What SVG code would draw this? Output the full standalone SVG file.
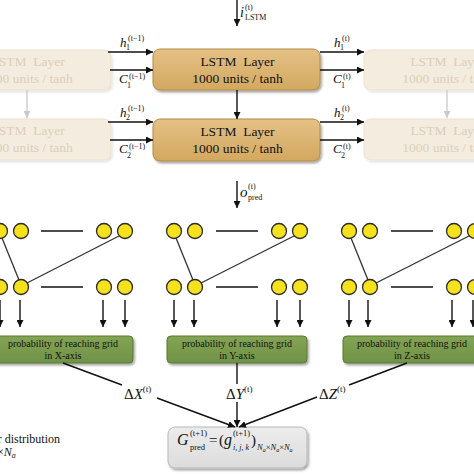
<svg xmlns="http://www.w3.org/2000/svg" width="474" height="474" viewBox="0 0 474 474">
<style>
text{font-family:"Liberation Serif","Times New Roman",serif;fill:#111}
.it{font-style:italic}
.lstm{fill:url(#gold);stroke:#b48a4a;stroke-width:1}
.fade{fill:#f4ecde;stroke:#ece0cc;stroke-width:1}
.ft{fill:#dccfba;font-size:13.5px}
.lt{font-size:13.5px}
.grn{fill:url(#green);stroke:#587a2e;stroke-width:1}
.gt{font-size:10px}
.c{fill:#f6e21c;stroke:#2a2a2a;stroke-width:1.3}
.ln{stroke:#111;stroke-width:1.4;fill:none}
.dg{stroke:#333;stroke-width:1.3;fill:none}
.sm{font-size:8px}
.s9{font-size:8.5px}
</style>
<defs>
<linearGradient id="gold" x1="0" y1="0" x2="0" y2="1"><stop offset="0" stop-color="#e4c185"/><stop offset="1" stop-color="#d3a860"/></linearGradient>
<linearGradient id="green" x1="0" y1="0" x2="0" y2="1"><stop offset="0" stop-color="#84a454"/><stop offset="1" stop-color="#709248"/></linearGradient>
<linearGradient id="gray" x1="0" y1="0" x2="0" y2="1"><stop offset="0" stop-color="#ececec"/><stop offset="1" stop-color="#dcdcdc"/></linearGradient>
<filter id="sh" x="-10%" y="-20%" width="130%" height="160%"><feDropShadow dx="1.5" dy="2" stdDeviation="1.2" flood-color="#000" flood-opacity="0.35"/></filter>
<filter id="shf" x="-10%" y="-20%" width="130%" height="160%"><feDropShadow dx="1.5" dy="2" stdDeviation="1.2" flood-color="#000" flood-opacity="0.1"/></filter>
<marker id="a" viewBox="0 0 10 10" refX="10" refY="5" markerWidth="7" markerHeight="7" markerUnits="userSpaceOnUse" orient="auto"><path d="M0,0 L10,5 L0,10 z" fill="#111"/></marker>
<marker id="af" viewBox="0 0 10 10" refX="10" refY="5" markerWidth="7" markerHeight="7" markerUnits="userSpaceOnUse" orient="auto"><path d="M0,0 L10,5 L0,10 z" fill="#c9c9c9"/></marker>
</defs>

<g id="lstm-left-1"><rect class="fade" filter="url(#shf)" x="-56" y="50" width="167" height="40" rx="7"/><text class="ft" x="27.5" y="66" text-anchor="middle">LSTM&#160; Layer</text><text class="ft" x="27.5" y="83" text-anchor="middle">1000 units / tanh</text></g>
<g id="lstm-left-2"><rect class="fade" filter="url(#shf)" x="-56" y="119" width="167" height="41" rx="7"/><text class="ft" x="27.5" y="135" text-anchor="middle">LSTM&#160; Layer</text><text class="ft" x="27.5" y="152" text-anchor="middle">1000 units / tanh</text></g>
<g id="lstm-1"><rect class="lstm" filter="url(#sh)" x="153" y="49" width="167" height="41" rx="7"/><text class="lt" x="237.5" y="66" text-anchor="middle">LSTM&#160; Layer</text><text class="lt" x="237.5" y="83" text-anchor="middle">1000 units / tanh</text></g>
<g id="lstm-2"><rect class="lstm" filter="url(#sh)" x="153" y="119" width="167" height="42" rx="7"/><text class="lt" x="237.5" y="136" text-anchor="middle">LSTM&#160; Layer</text><text class="lt" x="237.5" y="153" text-anchor="middle">1000 units / tanh</text></g>
<g id="lstm-right-1"><rect class="fade" filter="url(#shf)" x="364" y="50" width="167" height="40" rx="7"/><text class="ft" x="447.5" y="66" text-anchor="middle">LSTM&#160; Layer</text><text class="ft" x="447.5" y="83" text-anchor="middle">1000 units / tanh</text></g>
<g id="lstm-right-2"><rect class="fade" filter="url(#shf)" x="364" y="119" width="167" height="41" rx="7"/><text class="ft" x="447.5" y="135" text-anchor="middle">LSTM&#160; Layer</text><text class="ft" x="447.5" y="152" text-anchor="middle">1000 units / tanh</text></g>

<g id="neurons">
<g id="group-x">
<circle class="c" cx="0" cy="231" r="7.5"/><circle class="c" cx="21" cy="231" r="7.5"/><circle class="c" cx="104" cy="231" r="7.5"/><circle class="c" cx="125" cy="231" r="7.5"/>
<circle class="c" cx="0" cy="287" r="7.5"/><circle class="c" cx="21" cy="287" r="7.5"/><circle class="c" cx="104" cy="287" r="7.5"/><circle class="c" cx="125" cy="287" r="7.5"/>
</g>
<g id="group-y">
<circle class="c" cx="174" cy="231" r="7.5"/><circle class="c" cx="195" cy="231" r="7.5"/><circle class="c" cx="279" cy="231" r="7.5"/><circle class="c" cx="300" cy="231" r="7.5"/>
<circle class="c" cx="174" cy="287" r="7.5"/><circle class="c" cx="195" cy="287" r="7.5"/><circle class="c" cx="279" cy="287" r="7.5"/><circle class="c" cx="300" cy="287" r="7.5"/>
</g>
<g id="group-z">
<circle class="c" cx="349" cy="231" r="7.5"/><circle class="c" cx="370" cy="231" r="7.5"/><circle class="c" cx="454" cy="231" r="7.5"/><circle class="c" cx="475" cy="231" r="7.5"/>
<circle class="c" cx="349" cy="287" r="7.5"/><circle class="c" cx="370" cy="287" r="7.5"/><circle class="c" cx="454" cy="287" r="7.5"/><circle class="c" cx="475" cy="287" r="7.5"/>
</g>
</g>

<g id="prob-x"><rect class="grn" filter="url(#sh)" x="-7" y="336" width="140" height="27" rx="4"/><text class="gt" x="63" y="347" text-anchor="middle">probability of reaching grid</text><text class="gt" x="63" y="359" text-anchor="middle">in X-axis</text></g>
<g id="prob-y"><rect class="grn" filter="url(#sh)" x="167" y="336" width="140" height="27" rx="4"/><text class="gt" x="237" y="347" text-anchor="middle">probability of reaching grid</text><text class="gt" x="237" y="359" text-anchor="middle">in Y-axis</text></g>
<g id="prob-z"><rect class="grn" filter="url(#sh)" x="343" y="336" width="140" height="27" rx="4"/><text class="gt" x="412" y="347" text-anchor="middle">probability of reaching grid</text><text class="gt" x="412" y="359" text-anchor="middle">in Z-axis</text></g>

<g id="grid-output"><rect filter="url(#sh)" x="168" y="427" width="139" height="41" rx="7" fill="url(#gray)" stroke="#b8b8b8"/>
<text class="it" x="177" y="445" font-size="16">G</text><text class="s9" x="190" y="436">(t+1)</text><text class="s9" x="190" y="450">pred</text>
<text x="209" y="445" font-size="15">=</text><text x="219" y="445" font-size="15">(</text><text class="it" x="224" y="445" font-size="16">g</text><text class="s9" x="233" y="436">(t+1)</text><text class="it" x="233" y="450" font-size="8">i, j, k</text>
<text x="251" y="445" font-size="15">)</text><text class="it" x="257" y="450" font-size="8.5">N<tspan font-size="6" dy="1.5">a</tspan><tspan dy="-1.5" font-style="normal">×</tspan>N<tspan font-size="6" dy="1.5">a</tspan><tspan dy="-1.5" font-style="normal">×</tspan>N<tspan font-size="6" dy="1.5">a</tspan></text>
</g>

<g id="legend"><text x="60" y="443" font-size="12" text-anchor="end">r distribution</text><text x="-3" y="456" font-size="12">×<tspan class="it">N</tspan><tspan font-size="8" dy="2" class="it">a</tspan></text></g>

<g id="connectors">
<line class="ln" x1="237" y1="0" x2="237" y2="26" marker-end="url(#a)"/>
<text class="it" x="240" y="17" font-size="14">i</text><text class="sm" x="245" y="10">(t)</text><text class="sm" x="245" y="20" font-size="7">LSTM</text>
<line class="ln" x1="237" y1="90" x2="237" y2="119" marker-end="url(#a)"/>
<line x1="27" y1="90" x2="27" y2="118" stroke="#c9c9c9" stroke-width="1.3" marker-end="url(#af)"/>
<line x1="447" y1="90" x2="447" y2="118" stroke="#c9c9c9" stroke-width="1.3" marker-end="url(#af)"/>
<line class="ln" x1="108" y1="52" x2="153" y2="52" marker-end="url(#a)"/>
<line class="ln" x1="110" y1="70" x2="153" y2="70" marker-end="url(#a)"/>
<line class="ln" x1="108" y1="122" x2="153" y2="122" marker-end="url(#a)"/>
<line class="ln" x1="110" y1="140" x2="153" y2="140" marker-end="url(#a)"/>
<line class="ln" x1="320" y1="52" x2="364" y2="52" marker-end="url(#a)"/>
<line class="ln" x1="320" y1="70" x2="364" y2="70" marker-end="url(#a)"/>
<line class="ln" x1="320" y1="122" x2="364" y2="122" marker-end="url(#a)"/>
<line class="ln" x1="320" y1="140" x2="364" y2="140" marker-end="url(#a)"/>
<text class="it" x="120" y="47" font-size="13">h</text><text class="sm" x="126" y="50">1</text><text class="sm" x="128" y="41">(t−1)</text>
<text class="it" x="119" y="83" font-size="13">C</text><text class="sm" x="127" y="88">1</text><text class="sm" x="129" y="79">(t−1)</text>
<text class="it" x="120" y="117" font-size="13">h</text><text class="sm" x="126" y="120">2</text><text class="sm" x="128" y="111">(t−1)</text>
<text class="it" x="119" y="153" font-size="13">C</text><text class="sm" x="127" y="158">2</text><text class="sm" x="129" y="149">(t−1)</text>
<text class="it" x="334" y="47" font-size="13">h</text><text class="sm" x="340" y="50">1</text><text class="sm" x="342" y="41">(t)</text>
<text class="it" x="333" y="83" font-size="13">C</text><text class="sm" x="341" y="88">1</text><text class="sm" x="343" y="79">(t)</text>
<text class="it" x="334" y="117" font-size="13">h</text><text class="sm" x="340" y="120">2</text><text class="sm" x="342" y="111">(t)</text>
<text class="it" x="333" y="153" font-size="13">C</text><text class="sm" x="341" y="158">2</text><text class="sm" x="343" y="149">(t)</text>
<line class="ln" x1="237" y1="181" x2="237" y2="208" marker-end="url(#a)"/>
<text class="it" x="240" y="197" font-size="15">o</text><text class="sm" x="248" y="189">(t)</text><text class="sm" x="248" y="200" font-size="7">pred</text>

<line class="ln" x1="41" y1="231" x2="83" y2="231"/><line class="ln" x1="41" y1="287" x2="83" y2="287"/>
<line class="ln" x1="216" y1="231" x2="258" y2="231"/><line class="ln" x1="216" y1="287" x2="258" y2="287"/>
<line class="ln" x1="391" y1="231" x2="433" y2="231"/><line class="ln" x1="391" y1="287" x2="433" y2="287"/>
<line class="dg" x1="2" y1="238" x2="19" y2="280"/><line class="dg" x1="119" y1="236" x2="27" y2="283"/>
<line class="dg" x1="176" y1="238" x2="193" y2="280"/><line class="dg" x1="294" y1="236" x2="201" y2="283"/>
<line class="dg" x1="351" y1="238" x2="368" y2="280"/><line class="dg" x1="469" y1="236" x2="376" y2="283"/>

<line class="ln" x1="0" y1="300" x2="0" y2="327" marker-end="url(#a)"/><line class="ln" x1="20" y1="300" x2="20" y2="327" marker-end="url(#a)"/>
<line class="ln" x1="103" y1="300" x2="103" y2="327" marker-end="url(#a)"/><line class="ln" x1="125" y1="300" x2="125" y2="327" marker-end="url(#a)"/>
<line class="ln" x1="174" y1="300" x2="174" y2="327" marker-end="url(#a)"/><line class="ln" x1="194" y1="300" x2="194" y2="327" marker-end="url(#a)"/>
<line class="ln" x1="277" y1="300" x2="277" y2="327" marker-end="url(#a)"/><line class="ln" x1="300" y1="300" x2="300" y2="327" marker-end="url(#a)"/>
<line class="ln" x1="349" y1="300" x2="349" y2="327" marker-end="url(#a)"/><line class="ln" x1="368" y1="300" x2="368" y2="327" marker-end="url(#a)"/>
<line class="ln" x1="452" y1="300" x2="452" y2="327" marker-end="url(#a)"/><line class="ln" x1="473" y1="300" x2="473" y2="327" marker-end="url(#a)"/>

<line class="ln" x1="63" y1="363" x2="122" y2="385"/><line class="ln" x1="157" y1="398" x2="235" y2="427" marker-end="url(#a)"/>
<line class="ln" x1="237" y1="363" x2="237" y2="384"/><line class="ln" x1="237" y1="402" x2="237" y2="427" marker-end="url(#a)"/>
<line class="ln" x1="407" y1="363" x2="349" y2="385"/><line class="ln" x1="317" y1="397" x2="239" y2="427" marker-end="url(#a)"/>
<text x="124" y="399" font-size="15">Δ<tspan class="it">X</tspan><tspan font-size="9" dy="-7">(t)</tspan></text>
<text x="226" y="399" font-size="15">Δ<tspan class="it">Y</tspan><tspan font-size="9" dy="-7">(t)</tspan></text>
<text x="319" y="399" font-size="15">Δ<tspan class="it">Z</tspan><tspan font-size="9" dy="-7">(t)</tspan></text>
</g>
</svg>
